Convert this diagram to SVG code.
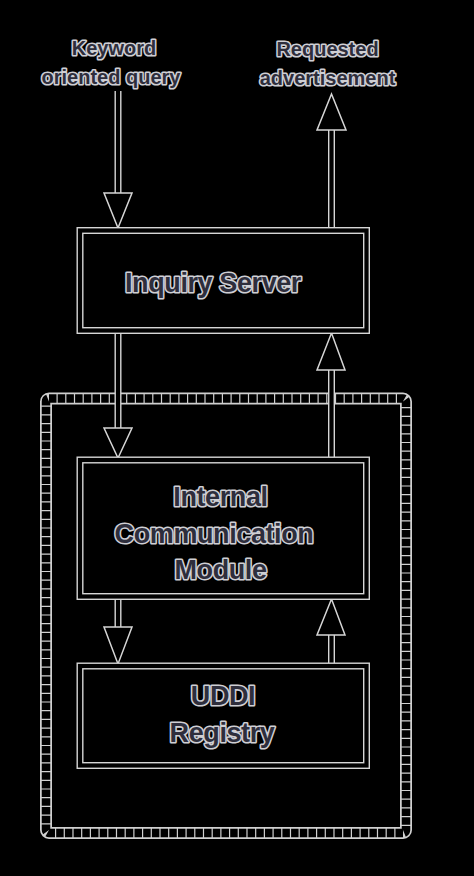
<svg xmlns="http://www.w3.org/2000/svg" width="474" height="876" viewBox="0 0 474 876">
  <style>
    .halo { fill: none; stroke: #d6d6d6; stroke-width: 7; }
    .ink { fill: none; stroke: #000; stroke-width: 4.2; }
    .head { fill: #000; stroke: #d6d6d6; stroke-width: 1.5; stroke-linejoin: miter; }
    .bandHalo { fill: none; stroke: #d0d0d0; stroke-width: 12; }
    .bandInk { fill: none; stroke: #000; stroke-width: 8.5; stroke-dasharray: 7.5 1.2; }
    .lbl { font-family: "Liberation Sans", Arial, sans-serif; font-weight: bold; fill: #2e2e3c; stroke: #cfcfd4; stroke-width: 3.2; paint-order: stroke; stroke-linejoin: round; text-anchor: middle; }
    .small { font-size: 20px; letter-spacing: 0px; }
    .big { font-size: 27px; letter-spacing: -0.4px; }
  </style>
  <rect x="0" y="0" width="474" height="876" fill="#000"/>

  <g id="boundary">
    <rect class="bandHalo" x="46" y="398.5" width="360" height="434.5" rx="3"/>
    <rect class="bandInk" x="46" y="398.5" width="360" height="434.5" rx="3"/>
  </g>

  <g id="connectors">
    <g class="halo">
      <line x1="118" y1="91" x2="118" y2="194"/>
      <line x1="331.5" y1="230" x2="331.5" y2="129"/>
      <line x1="118" y1="330" x2="118" y2="429"/>
      <line x1="331.5" y1="459" x2="331.5" y2="369"/>
      <line x1="118" y1="597" x2="118" y2="628"/>
      <line x1="331.5" y1="665" x2="331.5" y2="634"/>
    </g>
    <g class="ink">
      <line x1="118" y1="91" x2="118" y2="195"/>
      <line x1="331.5" y1="230" x2="331.5" y2="128"/>
      <line x1="118" y1="330" x2="118" y2="430"/>
      <line x1="331.5" y1="459" x2="331.5" y2="368"/>
      <line x1="118" y1="597" x2="118" y2="629"/>
      <line x1="331.5" y1="665" x2="331.5" y2="633"/>
    </g>
    <polygon class="head" points="104,193 132,193 118,228"/>
    <polygon class="head" points="317,130 346,130 331.5,94"/>
    <polygon class="head" points="104,428 132,428 118,458"/>
    <polygon class="head" points="317,370 345,370 331.5,333"/>
    <polygon class="head" points="104,627 132,627 118,664"/>
    <polygon class="head" points="317,635 345,635 331.5,599"/>
  </g>

  <g id="label-keyword">
    <text class="lbl small" x="114" y="55">Keyword</text>
    <text class="lbl small" x="111" y="84">oriented query</text>
  </g>

  <g id="label-requested">
    <text class="lbl small" x="327.5" y="56">Requested</text>
    <text class="lbl small" x="327.5" y="85">advertisement</text>
  </g>

  <g id="inquiry-server">
    <rect class="halo" x="80" y="230.5" width="286.5" height="100"/>
    <rect class="ink" x="80" y="230.5" width="286.5" height="100"/>
    <text class="lbl big" x="213" y="292">Inquiry Server</text>
  </g>

  <g id="internal-communication-module">
    <rect class="halo" x="80" y="460" width="286.5" height="136.5"/>
    <rect class="ink" x="80" y="460" width="286.5" height="136.5"/>
    <text class="lbl big" x="220.5" y="506">Internal</text>
    <text class="lbl big" x="214" y="543">Communication</text>
    <text class="lbl big" x="220.5" y="579">Module</text>
  </g>

  <g id="uddi-registry">
    <rect class="halo" x="80" y="666" width="286.5" height="99.5"/>
    <rect class="ink" x="80" y="666" width="286.5" height="99.5"/>
    <text class="lbl big" x="223" y="705">UDDI</text>
    <text class="lbl big" x="222" y="742">Registry</text>
  </g>
</svg>
